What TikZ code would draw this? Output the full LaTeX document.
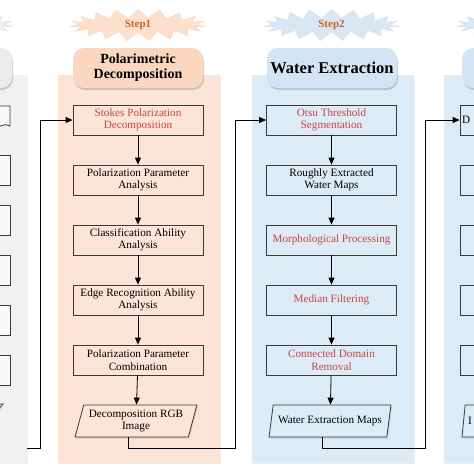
\documentclass[tikz,border=0pt]{standalone}
\usepackage{fontspec}
\setmainfont{Liberation Serif}
\usetikzlibrary{shapes.geometric,shapes.symbols,arrows.meta,shadows}
\definecolor{peachbg}{HTML}{FCE4D6}
\definecolor{peachhd}{HTML}{FAD7BE}
\definecolor{peachst}{HTML}{FBE0CC}
\definecolor{bluebg}{HTML}{DDEBF7}
\definecolor{bluehd}{HTML}{D3E4F4}
\definecolor{bluest}{HTML}{D9E7F5}
\definecolor{graybg}{HTML}{F1F1F1}
\definecolor{grayhd}{HTML}{ECECEC}
\definecolor{boxline}{HTML}{3A3A3A}
\definecolor{redtxt}{HTML}{C8463F}
\definecolor{steptxt}{HTML}{C8642D}
\tikzset{
  colbg/.style={draw=none, inner sep=0pt, minimum width=162pt, minimum height=388pt,
    drop shadow={opacity=0.12, shadow xshift=1pt, shadow yshift=-1pt}},
  stepbox/.style={draw=boxline, line width=0.8pt, minimum width=130pt, minimum height=30pt,
    align=center, inner sep=1pt, font=\fontsize{11.2}{12.5}\selectfont},
  para/.style={trapezium, trapezium left angle=72, trapezium right angle=108,
    trapezium stretches=true, minimum width=122pt, minimum height=32pt,
    draw=boxline, line width=0.8pt, align=center, inner sep=1pt,
    font=\fontsize{11.2}{12.5}\selectfont,
    drop shadow={opacity=0.25, shadow xshift=1pt, shadow yshift=-1.5pt}},
  header/.style={rounded corners=11pt, minimum width=130pt, minimum height=40pt,
    align=center, font=\bfseries\fontsize{14}{15}\selectfont,
    drop shadow={opacity=0.35, shadow xshift=1pt, shadow yshift=-2pt}},
  burst/.style={starburst, starburst points=19, starburst point height=9pt,
    random starburst=0, minimum width=136pt, minimum height=30pt, inner sep=0pt,
    font=\bfseries\fontsize{11}{12}\selectfont, text=steptxt},
  link/.style={draw=black, line width=0.8pt},
  arrow/.style={link, -{Triangle[length=7pt,width=6pt]}},
  red/.style={text=redtxt}
}
\begin{document}
\begin{tikzpicture}[x=1pt,y=-1pt]
\useasboundingbox (0,0) rectangle (474,474);
\fill[white] (0,0) rectangle (474,474);
\clip (0,0) rectangle (474,474);

% ---------- column backgrounds ----------
\node[colbg, fill=graybg] (bg0) at (-54,269) {};
\node[colbg, fill=peachbg] (bg1) at (139,269) {};
\node[colbg, fill=bluebg] (bg2) at (332.5,269) {};
\node[colbg, fill=bluebg] (bg3) at (525,269) {};

% ---------- starbursts ----------
\node[burst, fill=graybg, draw=gray!30] (s0) at (-55,25) {};
\node[burst, fill=peachst, draw=peachhd] (s1) at (138,25) {Step1};
\node[burst, fill=bluest, draw=bluehd] (s2) at (331.5,25) {Step2};
\node[burst, fill=bluest, draw=bluehd] (s3) at (524,25) {};

% ---------- headers ----------
\node[header, fill=grayhd] (h0) at (-53,68) {};
\node[header, fill=peachhd] (h1) at (138,68) {Polarimetric\\Decomposition};
\node[header, fill=bluehd, font=\bfseries\fontsize{16.5}{17}\selectfont] (h2) at (332,68) {Water Extraction};
\node[header, fill=bluehd] (h3) at (527,68) {};

% ---------- left (partial) column ----------
\draw[boxline, line width=0.8pt, fill=white!60!graybg]
  (-120,106) -- (10,106) -- (10,126) .. controls (0,120) and (-10,138) .. (-30,132) -- (-120,132) -- cycle;
\node[stepbox, fill=white!60!graybg] (l1) at (-55,170) {};
\node[stepbox, fill=white!60!graybg] (l2) at (-55,220) {};
\node[stepbox, fill=white!60!graybg] (l3) at (-55,270) {};
\node[stepbox, fill=white!60!graybg] (l4) at (-55,320) {};
\node[stepbox, fill=white!60!graybg] (l5) at (-55,370) {};
\node[para, fill=white!60!graybg, minimum height=26pt] (l6) at (-58,417) {};

% ---------- Step1 column ----------
\node[stepbox, fill=peachbg, red] (a1) at (138,120) {Stokes Polarization\\Decomposition};
\node[stepbox, fill=peachbg] (a2) at (138,180) {Polarization Parameter\\Analysis};
\node[stepbox, fill=peachbg] (a3) at (138,240) {Classification Ability\\Analysis};
\node[stepbox, fill=peachbg] (a4) at (138,300) {Edge Recognition Ability\\Analysis};
\node[stepbox, fill=peachbg] (a5) at (138,360) {Polarization Parameter\\Combination};
\node[para, fill=peachbg] (a6) at (136,421) {Decomposition RGB\\Image};

% ---------- Step2 column ----------
\node[stepbox, fill=bluebg, red] (b1) at (331.5,120) {Otsu Threshold\\Segmentation};
\node[stepbox, fill=bluebg] (b2) at (331.5,180) {Roughly Extracted\\Water Maps};
\node[stepbox, fill=bluebg, red] (b3) at (331.5,240) {Morphological Processing};
\node[stepbox, fill=bluebg, red] (b4) at (331.5,300) {Median Filtering};
\node[stepbox, fill=bluebg, red] (b5) at (331.5,360) {Connected Domain\\Removal};
\node[para, fill=bluebg] (b6) at (330,421) {Water Extraction Maps};

% ---------- Step3 column (partial) ----------
\node[stepbox, fill=bluebg, text width=126pt, align=left, inner sep=2pt] (c1) at (525,120) {D};
\node[stepbox, fill=bluebg] (c2) at (525,180) {};
\node[stepbox, fill=bluebg] (c3) at (525,240) {};
\node[stepbox, fill=bluebg] (c4) at (525,300) {};
\node[stepbox, fill=bluebg] (c5) at (525,360) {};
\node[para, fill=bluebg, text width=110pt, align=left] (c6) at (523,421) {I};

% ---------- arrows within columns ----------
\foreach \u/\v in {a1/a2,a2/a3,a3/a4,a4/a5,a5/a6,b1/b2,b2/b3,b3/b4,b4/b5,b5/b6}
  \draw[arrow] (\u) -- (\v);

% ---------- connectors between columns ----------
\coordinate (j0) at (27,448);
\coordinate (k0) at (40,448);
\draw[arrow] (j0) -- (k0) |- (a1.west);

\coordinate (j1) at (128,448);
\coordinate (k1) at (235,448);
\draw[arrow] (a6.south -| j1) -- (j1) -- (k1) |- (b1.west);

\coordinate (j2) at (322,448);
\coordinate (k2) at (425,448);
\draw[arrow] (b6.south -| j2) -- (j2) -- (k2) |- (c1.west);
\end{tikzpicture}
\end{document}
